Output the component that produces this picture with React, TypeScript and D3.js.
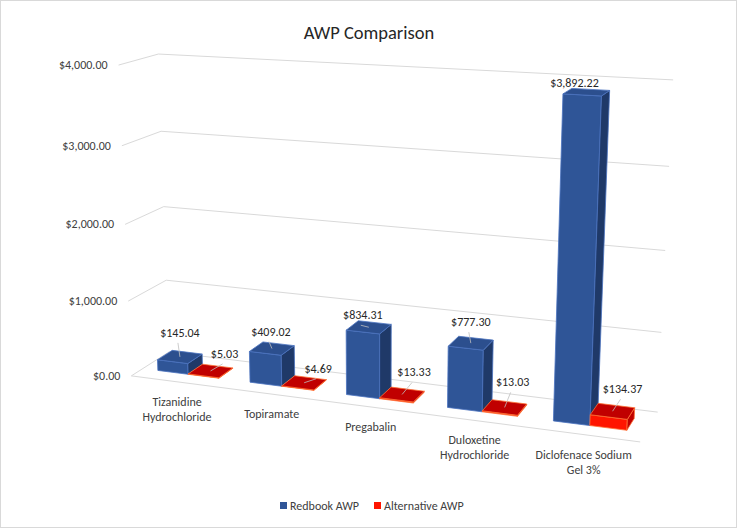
import React, { useEffect, useRef } from "react";
import * as d3 from "d3";

const categories = [
  "Tizanidine Hydrochloride",
  "Topiramate",
  "Pregabalin",
  "Duloxetine Hydrochloride",
  "Diclofenace Sodium Gel 3%",
];
const categoryLines = [
  ["Tizanidine", "Hydrochloride"],
  ["Topiramate"],
  ["Pregabalin"],
  ["Duloxetine", "Hydrochloride"],
  ["Diclofenace Sodium", "Gel 3%"],
];
const seriesNames = ["Redbook AWP", "Alternative AWP"];
const redbookAwp = [145.04, 409.02, 834.31, 777.3, 3892.22];
const alternativeAwp = [5.03, 4.69, 13.33, 13.03, 134.37];
const valueTicks = [0, 1000, 2000, 3000, 4000];

const WIDTH = 737;
const HEIGHT = 528;
const FONT = "Calibri, Carlito, Lato, sans-serif";

// corners of the 3d plot box: [category, value, depth] in unit cube -> screen x, y
const boxAnchors: number[][] = [
  [0, 0, 0, 133, 375],
  [0, 1, 0, 117, 65],
  [0, 0, 1, 167, 353],
  [0, 1, 1, 160, 54],
  [1, 0, 1, 658, 411],
  [1, 1, 1, 673, 80],
  [1, 0, 0, 640, 443],
];

// hand-placed data labels: [dx, dy] from the top face centre, per series then category
const labelOffsets = [
  [[0, -24], [-1, -17], [-6, -12], [0, -21], [-12, -9]],
  [[14, -17], [14, -14], [12, -22], [8, -25], [10, -22]],
];

// least squares fit of a 3x4 perspective camera (last entry fixed at 1)
function solveCamera(pts: number[][]) {
  const rows: number[][] = [];
  const rhs: number[] = [];
  for (const [u, v, w, x, y] of pts) {
    rows.push([u, v, w, 1, 0, 0, 0, 0, -x * u, -x * v, -x * w]);
    rhs.push(x);
    rows.push([0, 0, 0, 0, u, v, w, 1, -y * u, -y * v, -y * w]);
    rhs.push(y);
  }
  const n = 11;
  const m: number[][] = [];
  for (let i = 0; i < n; i++) {
    const r = new Array(n + 1).fill(0);
    for (let k = 0; k < rows.length; k++) {
      for (let j = 0; j < n; j++) r[j] += rows[k][i] * rows[k][j];
      r[n] += rows[k][i] * rhs[k];
    }
    m.push(r);
  }
  for (let c = 0; c < n; c++) {
    let piv = c;
    for (let r = c + 1; r < n; r++) if (Math.abs(m[r][c]) > Math.abs(m[piv][c])) piv = r;
    [m[c], m[piv]] = [m[piv], m[c]];
    for (let r = 0; r < n; r++) {
      if (r === c) continue;
      const f = m[r][c] / m[c][c];
      for (let j = c; j <= n; j++) m[r][j] -= f * m[c][j];
    }
  }
  return m.map((r, i) => r[n] / r[i]);
}

const cam = solveCamera(boxAnchors);
const project = (u: number, v: number, w: number): [number, number] => {
  const d = cam[8] * u + cam[9] * v + cam[10] * w + 1;
  return [
    (cam[0] * u + cam[1] * v + cam[2] * w + cam[3]) / d,
    (cam[4] * u + cam[5] * v + cam[6] * w + cam[7]) / d,
  ];
};

const fmt = (v: number) => "$" + d3.format(",.2f")(v);

const palette = [
  { front: "#2f5597", side: "#1f3968", top: "#2c4f8e", stroke: "#4a72bf" },
  { front: "#ff1500", side: "#c00000", top: "#c00000", stroke: "#ff7033" },
];

const AwpChart: React.FC = () => {
  const svgRef = useRef<SVGSVGElement>(null);

  useEffect(() => {
    const svg = d3.select(svgRef.current);
    svg.selectAll("*").remove();

    const x0 = d3.scaleBand<string>().domain(categories).range([0, 1]);
    const x1 = d3
      .scaleBand<string>()
      .domain(seriesNames)
      .range([0, x0.bandwidth()])
      .paddingOuter(0.5);
    const y = d3.scaleLinear().domain([0, 4000]).range([0, 1]);
    const zFront = 0.3;
    const zBack = 0.7;

    svg
      .append("rect")
      .attr("x", 0.5)
      .attr("y", 0.5)
      .attr("width", WIDTH - 1)
      .attr("height", HEIGHT - 1)
      .attr("fill", "#fff")
      .attr("stroke", "#d9d9d9");

    svg
      .append("text")
      .attr("x", 369)
      .attr("y", 32)
      .attr("text-anchor", "middle")
      .attr("dominant-baseline", "central")
      .attr("font-family", FONT)
      .attr("font-size", 18.5)
      .attr("fill", "#262626")
      .text("AWP Comparison");

    const line = d3.line();

    // gridlines: side wall then back wall
    const grid = svg.append("g").attr("fill", "none").attr("stroke", "#d9d9d9");
    valueTicks.forEach((t) => {
      const v = y(t);
      grid
        .append("path")
        .attr("d", line([project(0, v, 0), project(0, v, 1), project(1, v, 1)]));
    });
    grid.append("path").attr("d", line([project(0, 0, 0), project(1, 0, 0)]));

    svg
      .append("g")
      .selectAll("text")
      .data(valueTicks)
      .enter()
      .append("text")
      .attr("x", (t) => project(0, y(t), 0)[0] - 11)
      .attr("y", (t) => project(0, y(t), 0)[1])
      .attr("text-anchor", "end")
      .attr("dominant-baseline", "central")
      .attr("font-family", FONT)
      .attr("font-size", 12)
      .attr("fill", "#404040")
      .text((t) => fmt(t));

    const seriesValues = [redbookAwp, alternativeAwp];
    const bars = svg.append("g");
    const labels = svg.append("g");
    const poly = (pts: [number, number][]) => line(pts) + "Z";

    categories.forEach((cat, i) => {
      seriesNames.forEach((s, k) => {
        const value = seriesValues[k][i];
        const u0 = x0(cat)! + x1(s)!;
        const u1 = u0 + x1.bandwidth();
        const v = y(value);
        const c = palette[k];
        const g = bars
          .append("g")
          .attr("stroke", c.stroke)
          .attr("stroke-width", 0.8)
          .attr("stroke-linejoin", "round");
        g.append("path")
          .attr("fill", c.front)
          .attr("d", poly([project(u0, 0, zFront), project(u1, 0, zFront), project(u1, v, zFront), project(u0, v, zFront)]));
        g.append("path")
          .attr("fill", c.side)
          .attr("d", poly([project(u1, 0, zFront), project(u1, 0, zBack), project(u1, v, zBack), project(u1, v, zFront)]));
        g.append("path")
          .attr("fill", c.top)
          .attr("d", poly([project(u0, v, zFront), project(u1, v, zFront), project(u1, v, zBack), project(u0, v, zBack)]));

        // data label above the top face, joined by a leader line when moved away
        const [cx, cy] = project((u0 + u1) / 2, v, (zFront + zBack) / 2);
        const [dx, dy] = labelOffsets[k][i];
        const lx = cx + dx;
        const ly = cy + dy;
        if (dy <= -12) {
          labels
            .append("line")
            .attr("x1", cx)
            .attr("y1", cy)
            .attr("x2", lx - 2)
            .attr("y2", ly + 10)
            .attr("stroke", "#bfbfbf")
            .attr("stroke-width", 0.8);
        }
        labels
          .append("text")
          .attr("x", lx)
          .attr("y", ly)
          .attr("text-anchor", "middle")
          .attr("dominant-baseline", "central")
          .attr("font-family", FONT)
          .attr("font-size", 12)
          .attr("fill", "#262626")
          .text(fmt(value));
      });
    });

    // category labels under the front edge of the floor
    categories.forEach((cat, i) => {
      const [px, py] = project(x0(cat)! + x0.bandwidth() / 2, 0, 0);
      const t = svg
        .append("text")
        .attr("text-anchor", "middle")
        .attr("font-family", FONT)
        .attr("font-size", 12)
        .attr("fill", "#404040");
      categoryLines[i].forEach((ln, j) => {
        t.append("tspan")
          .attr("x", px)
          .attr("y", py + 24 + j * 15)
          .text(ln);
      });
    });

    // legend
    const legendItems = [
      { name: seriesNames[0], color: palette[0].front, x: 280 },
      { name: seriesNames[1], color: palette[1].front, x: 374 },
    ];
    const lg = svg.append("g");
    legendItems.forEach((d) => {
      lg.append("rect").attr("x", d.x).attr("y", 502).attr("width", 7).attr("height", 7).attr("fill", d.color);
      lg.append("text")
        .attr("x", d.x + 10)
        .attr("y", 505.5)
        .attr("dominant-baseline", "central")
        .attr("font-family", FONT)
        .attr("font-size", 12)
        .attr("fill", "#404040")
        .text(d.name);
    });
  }, []);

  return <svg ref={svgRef} width={WIDTH} height={HEIGHT} style={{ position: "absolute", left: 0, top: 0 }} />;
};

export default function App() {
  return <AwpChart />;
}
